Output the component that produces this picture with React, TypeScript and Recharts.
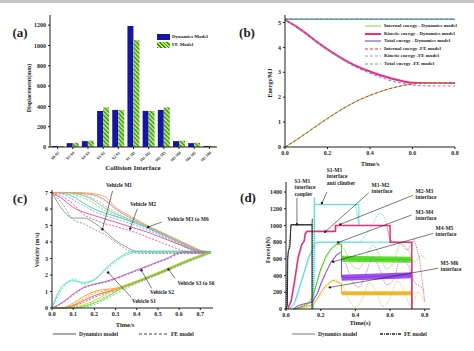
import React from "react";
import {
  BarChart,
  Bar,
  LineChart,
  Line,
  XAxis,
  YAxis,
  ReferenceLine,
  ReferenceDot,
} from "recharts";

const serif = '"Liberation Serif", "DejaVu Serif", serif';
const ink = "#1e1e1e";
const tick = { fontSize: 6, fontFamily: serif, fontWeight: 700, fill: ink };

// (a) displacement per collision interface
const interfaces = ["S6-S5", "S5-S4", "S4-S3", "S3-S2", "S2-S1", "S1-M1", "M1-M2", "M2-M3", "M3-M4", "M4-M5", "M5-M6"];
const dispDynamics = [10, 38, 58, 355, 365, 1192, 355, 365, 58, 38, 10];
const dispFE = [10, 42, 62, 390, 365, 1052, 355, 390, 62, 42, 10];
const dispTicks = [0, 200, 400, 600, 800, 1000, 1200];

// (b) energy
const timeB = [0, 0.05, 0.1, 0.15, 0.2, 0.25, 0.3, 0.35, 0.4, 0.45, 0.5, 0.55, 0.6, 0.65, 0.7, 0.75, 0.8];
const internalDyn = [0, 0.27, 0.56, 0.86, 1.15, 1.43, 1.68, 1.9, 2.08, 2.23, 2.36, 2.46, 2.53, 2.56, 2.57, 2.58, 2.58];
const kineticDyn = [5.1, 4.85, 4.55, 4.22, 3.92, 3.65, 3.4, 3.2, 3.03, 2.88, 2.75, 2.65, 2.58, 2.57, 2.57, 2.57, 2.57];
const totalDyn = [5.13, 5.13, 5.13, 5.13, 5.13, 5.13, 5.13, 5.13, 5.13, 5.13, 5.13, 5.13, 5.13, 5.13, 5.13, 5.13, 5.13];
const internalFE = [0, 0.26, 0.55, 0.85, 1.14, 1.42, 1.67, 1.89, 2.07, 2.23, 2.36, 2.46, 2.53, 2.56, 2.57, 2.58, 2.58];
const kineticFE = [5.1, 4.84, 4.53, 4.2, 3.9, 3.62, 3.36, 3.14, 2.96, 2.8, 2.66, 2.56, 2.49, 2.46, 2.45, 2.45, 2.45];
const totalFE = [5.14, 5.14, 5.14, 5.14, 5.14, 5.14, 5.14, 5.14, 5.14, 5.14, 5.14, 5.14, 5.14, 5.14, 5.14, 5.14, 5.14];

// (c) velocity
const timeC = [0, 0.05, 0.1, 0.15, 0.2, 0.25, 0.3, 0.35, 0.4, 0.45, 0.5, 0.55, 0.6, 0.65, 0.7, 0.75];
const velM1 = [7, 5.95, 5.45, 5.45, 5.15, 4.65, 4.1, 3.7, 3.42, 3.4, 3.4, 3.4, 3.4, 3.4, 3.4, 3.38];
const velM2 = [7, 6.6, 6.1, 5.8, 5.6, 5.4, 5.2, 5.0, 4.8, 4.6, 4.35, 4.1, 3.85, 3.6, 3.4, 3.35];
const velM3 = [7, 6.95, 6.75, 6.35, 6.0, 5.75, 5.55, 5.35, 5.12, 4.87, 4.58, 4.28, 3.98, 3.7, 3.45, 3.33];
const velM4 = [7, 7, 6.95, 6.8, 6.5, 6.05, 5.7, 5.45, 5.2, 4.92, 4.62, 4.32, 4.02, 3.72, 3.45, 3.33];
const velM5 = [7, 7, 6.98, 6.92, 6.85, 6.55, 6.0, 5.6, 5.28, 4.95, 4.65, 4.35, 4.05, 3.75, 3.48, 3.35];
const velM6 = [7, 7, 7, 6.98, 6.92, 6.75, 6.1, 5.7, 5.35, 5.0, 4.7, 4.4, 4.1, 3.8, 3.5, 3.38];
const velS1 = [0, 1.35, 1.65, 1.55, 1.7, 2.35, 2.9, 3.3, 3.45, 3.45, 3.45, 3.45, 3.45, 3.45, 3.45, 3.42];
const velS2 = [0, 0.35, 0.85, 1.25, 1.45, 1.6, 1.8, 2.05, 2.3, 2.55, 2.8, 3.05, 3.35, 3.4, 3.4, 3.38];
const velS3 = [0, 0.02, 0.3, 0.7, 1.0, 1.12, 1.2, 1.4, 1.62, 1.88, 2.15, 2.42, 2.7, 2.95, 3.2, 3.38];
const velS4 = [0, 0, 0.15, 0.45, 0.75, 0.95, 1.12, 1.35, 1.6, 1.85, 2.1, 2.38, 2.65, 2.92, 3.18, 3.38];
const velS5 = [0, 0, 0.05, 0.2, 0.45, 0.8, 1.1, 1.4, 1.65, 1.9, 2.15, 2.42, 2.7, 2.96, 3.2, 3.38];
const velS6 = [0, 0, 0, 0.1, 0.3, 0.6, 0.98, 1.32, 1.58, 1.84, 2.1, 2.36, 2.64, 2.9, 3.16, 3.36];
const velM1fe = [7, 6.3, 5.35, 5.1, 4.75, 4.45, 4.0, 3.55, 3.32, 3.3, 3.3, 3.3, 3.3, 3.3, 3.3, 3.3];
const velM2fe = [7, 6.75, 6.3, 5.65, 5.35, 5.1, 4.95, 4.75, 4.55, 4.3, 4.05, 3.8, 3.55, 3.35, 3.3, 3.3];
const velM3fe = [7, 6.9, 6.55, 6.2, 5.85, 5.6, 5.4, 5.2, 4.98, 4.72, 4.45, 4.15, 3.85, 3.55, 3.35, 3.3];
const velM4fe = [7, 6.98, 6.88, 6.65, 6.3, 5.9, 5.6, 5.35, 5.1, 4.82, 4.52, 4.2, 3.9, 3.6, 3.38, 3.3];
const velM5fe = [7, 7, 6.95, 6.85, 6.6, 6.2, 5.8, 5.45, 5.15, 4.85, 4.55, 4.25, 3.95, 3.65, 3.4, 3.3];
const velM6fe = [7, 7, 7, 6.95, 6.8, 6.5, 6.0, 5.6, 5.28, 4.95, 4.62, 4.3, 3.98, 3.68, 3.42, 3.32];
const velS1fe = [0, 1.2, 1.75, 1.45, 1.75, 2.25, 2.8, 3.2, 3.35, 3.35, 3.35, 3.35, 3.35, 3.35, 3.35, 3.35];
const velS2fe = [0, 0.3, 0.78, 1.2, 1.42, 1.55, 1.75, 2.0, 2.25, 2.5, 2.75, 3.0, 3.28, 3.35, 3.35, 3.35];
const velS3fe = [0, 0, 0.2, 0.55, 0.9, 1.05, 1.15, 1.32, 1.55, 1.8, 2.05, 2.32, 2.6, 2.88, 3.12, 3.35];
const velS4fe = [0, 0, 0.1, 0.35, 0.65, 0.88, 1.05, 1.28, 1.52, 1.78, 2.02, 2.3, 2.58, 2.85, 3.1, 3.35];
const velS5fe = [0, 0, 0.02, 0.12, 0.35, 0.68, 1.0, 1.3, 1.56, 1.82, 2.08, 2.34, 2.62, 2.88, 3.12, 3.35];
const velS6fe = [0, 0, 0, 0.05, 0.2, 0.5, 0.85, 1.2, 1.48, 1.75, 2.02, 2.28, 2.56, 2.82, 3.08, 3.32];

// (d) interface force, [time s, force kN]
const coupler = [[0, 0], [0.008, 40], [0.01, 600], [0.014, 700], [0.02, 720], [0.024, 780], [0.028, 1010], [0.15, 1010], [0.15, 0]];
const couplerFE = [[0, 0], [0.01, 650], [0.016, 720], [0.03, 1000], [0.148, 1000], [0.152, 1080], [0.152, 0]];
const antiClimber = [[0.16, 0], [0.165, 1250], [0.42, 1250], [0.42, 1000]];
const antiClimberFE = [[0.158, 0], [0.162, 1340], [0.168, 1250], [0.4, 1250], [0.42, 1000]];
const m1m2 = [[0.01, 0], [0.03, 100], [0.05, 350], [0.07, 620], [0.09, 770], [0.105, 810], [0.11, 900], [0.12, 930], [0.285, 930], [0.285, 1000], [0.6, 1000], [0.6, 800], [0.725, 800], [0.725, 0]];
const m1m2FE = [[0.01, 0], [0.03, 80], [0.05, 300], [0.07, 580], [0.09, 740], [0.11, 860], [0.12, 920], [0.28, 920], [0.3, 1000], [0.58, 1000], [0.6, 820], [0.66, 780], [0.7, 700], [0.74, 830], [0.77, 600], [0.8, 80]];
const m2m3 = [[0.02, 0], [0.05, 80], [0.08, 280], [0.11, 480], [0.13, 620], [0.15, 700], [0.17, 800], [0.6, 800]];
const m2m3FE = [[0.02, 0], [0.05, 60], [0.08, 250], [0.11, 450], [0.14, 640], [0.17, 780], [0.2, 800], [0.42, 800], [0.46, 880], [0.5, 1020], [0.54, 1150], [0.57, 1080], [0.6, 850], [0.64, 760]];
const m3m4 = [[0.04, 0], [0.08, 20], [0.12, 50], [0.15, 110], [0.17, 260], [0.2, 480], [0.23, 630], [0.26, 720], [0.29, 770], [0.32, 780], [0.32, 600], [0.725, 590], [0.725, 0]];
const m3m4FE = [[0.04, 0], [0.1, 40], [0.15, 150], [0.2, 450], [0.25, 680], [0.3, 790], [0.34, 700], [0.38, 520], [0.42, 480], [0.46, 620], [0.5, 760], [0.54, 640], [0.58, 480], [0.62, 560], [0.66, 780], [0.7, 720], [0.74, 560], [0.78, 640], [0.8, 600]];
const m4m5 = [[0.04, 0], [0.07, 40], [0.1, 60], [0.15, 80], [0.18, 180], [0.2, 300], [0.23, 440], [0.26, 560], [0.29, 640], [0.32, 690], [0.32, 375], [0.725, 405], [0.725, 0]];
const m4m5FE = [[0.05, 0], [0.1, 50], [0.15, 90], [0.2, 280], [0.25, 520], [0.3, 660], [0.34, 560], [0.38, 340], [0.42, 260], [0.46, 420], [0.5, 620], [0.54, 480], [0.58, 290], [0.62, 350], [0.66, 600], [0.7, 540], [0.74, 320], [0.78, 260], [0.8, 200]];
const m5m6 = [[0.05, 0], [0.1, 20], [0.15, 50], [0.18, 120], [0.21, 230], [0.24, 300], [0.27, 345], [0.3, 320], [0.32, 300], [0.32, 190], [0.725, 190], [0.725, 0]];
const m5m6FE = [[0.05, 0], [0.1, 15], [0.15, 40], [0.2, 160], [0.25, 300], [0.28, 350], [0.32, 290], [0.36, 120], [0.4, 20], [0.44, 120], [0.48, 320], [0.52, 200], [0.56, 30], [0.6, 130], [0.64, 330], [0.68, 220], [0.72, 40], [0.76, 200], [0.8, 80]];
const bandM3M4 = [[0.32, 600], [0.725, 590]];
const bandM4M5 = [[0.32, 375], [0.725, 405]];
const bandM5M6 = [[0.32, 190], [0.725, 190]];

const dispRows = interfaces.map((name, i) => ({ name, dyn: dispDynamics[i], fe: dispFE[i] }));
const energyRows = timeB.map((t, i) => ({
  t, intD: internalDyn[i], kinD: kineticDyn[i], totD: totalDyn[i],
  intF: internalFE[i], kinF: kineticFE[i], totF: totalFE[i],
}));
const velRows = timeC.map((t, i) => ({
  t, m1: velM1[i], m2: velM2[i], m3: velM3[i], m4: velM4[i], m5: velM5[i], m6: velM6[i],
  s1: velS1[i], s2: velS2[i], s3: velS3[i], s4: velS4[i], s5: velS5[i], s6: velS6[i],
  m1f: velM1fe[i], m2f: velM2fe[i], m3f: velM3fe[i], m4f: velM4fe[i], m5f: velM5fe[i], m6f: velM6fe[i],
  s1f: velS1fe[i], s2f: velS2fe[i], s3f: velS3fe[i], s4f: velS4fe[i], s5f: velS5fe[i], s6f: velS6fe[i],
}));
const pts = (a: number[][]) => a.map(([x, y]) => ({ x, y }));

const velColors: Record<string, string> = {
  m1: "#8c8c8c", m2: "#f0468c", m3: "#58b8e8", m4: "#6cd86c", m5: "#c88ce8", m6: "#f0a838",
  s1: "#3ce0b4", s2: "#b05ab4", s3: "#f0a020", s4: "#f05050", s5: "#c0d838", s6: "#58d858",
};

const axisProps = {
  tick,
  tickSize: 2,
  axisLine: { stroke: ink },
  tickLine: { stroke: ink },
};

function T({ x, y, size = 6, rot = 0, anchor = "middle", children }: any) {
  const tx = anchor === "middle" ? "-50%" : anchor === "end" ? "-100%" : "0";
  return (
    <div
      style={{
        position: "absolute", left: x, top: y,
        transform: `translate(${tx},-50%) rotate(${rot}deg)`,
        fontFamily: serif, fontWeight: 700, fontSize: size,
        whiteSpace: "nowrap", lineHeight: 1.15, color: ink,
      }}
    >
      {children}
    </div>
  );
}

function Swatch({ x, y, w, color, dash, width = 1 }: any) {
  return (
    <svg style={{ position: "absolute", left: x, top: y - 2 }} width={w} height={4}>
      <line x1={0} y1={2} x2={w} y2={2} stroke={color} strokeWidth={width} strokeDasharray={dash} />
    </svg>
  );
}

const RotTick = (props: any) => {
  const { x, y, payload } = props;
  return (
    <g transform={`translate(${x + 2},${y + 2})`}>
      <text transform="rotate(-45)" textAnchor="end" fontSize={4} fontFamily={serif} fontWeight={700} fill={ink}>
        {payload.value}
      </text>
    </g>
  );
};

const energyLegend = [
  { name: "Internal energy - Dynamics model", color: "#8ee05a", dash: undefined, w: 1.2 },
  { name: "Kinetic energy - Dynamics model", color: "#f0287a", dash: undefined, w: 2 },
  { name: "Total energy - Dynamics model", color: "#8484e0", dash: undefined, w: 1.5 },
  { name: "Internal energy -FE model", color: "#f02848", dash: "3 2", w: 1.2 },
  { name: "Kinetic energy -FE model", color: "#90a0e8", dash: "3 2", w: 1.2 },
  { name: "Total energy -FE model", color: "#3cc03c", dash: "3 2", w: 1.2 },
];

export default function App() {
  const seg = (a: number[], b: number[]) => [{ x: a[0], y: a[1] }, { x: b[0], y: b[1] }];
  return (
    <div style={{ position: "absolute", left: 0, top: 0, width: 474, height: 351, background: "#fff", overflow: "hidden" }}>
      <div style={{ position: "absolute", left: 0, top: 0, width: 474, height: 3, background: "#c4c4c4" }} />

      {/* (a) */}
      <div style={{ position: "absolute", left: 0, top: 0 }}>
        <BarChart width={237} height={175} data={dispRows} margin={{ top: 15, right: 20, left: 0, bottom: 0 }} barGap={0} barCategoryGap="10%">
          <defs>
            <pattern id="hatch" width="3" height="3" patternUnits="userSpaceOnUse" patternTransform="rotate(-45)">
              <rect width="3" height="3" fill="#c4f064" />
              <rect width="1.3" height="3" fill="#2a8a2a" />
            </pattern>
          </defs>
          <XAxis dataKey="name" interval={0} height={28} tick={<RotTick />} tickSize={2} axisLine={{ stroke: ink }} tickLine={{ stroke: ink }} />
          <YAxis width={50} domain={[0, 1300]} ticks={dispTicks} {...axisProps} />
          <Bar dataKey="dyn" fill="#1616a6" isAnimationActive={false} />
          <Bar dataKey="fe" fill="url(#hatch)" isAnimationActive={false} />
        </BarChart>
      </div>
      <T x={20} y={33} size={13}>(a)</T>
      <T x={29} y={88} rot={-90}>Displacement(mm)</T>
      <T x={133} y={168} size={7}>Collision Interface</T>
      <div style={{ position: "absolute", left: 157, top: 34, width: 13, height: 6, background: "#1616a6" }} />
      <div style={{ position: "absolute", left: 157, top: 42, width: 13, height: 6, background: "repeating-linear-gradient(45deg, #2a8a2a 0 1.2px, #c4f064 1.2px 2.6px)" }} />
      <T x={172} y={37} size={5} anchor="start">Dynamics Model</T>
      <T x={172} y={45} size={5} anchor="start">FE Model</T>

      {/* (b) */}
      <div style={{ position: "absolute", left: 237, top: 0 }}>
        <LineChart width={237} height={175} data={energyRows} margin={{ top: 15, right: 19, left: 0, bottom: 0 }}>
          <XAxis dataKey="t" type="number" domain={[0, 0.8]} ticks={[0, 0.2, 0.4, 0.6, 0.8]} tickFormatter={(v: number) => v.toFixed(1)} height={28} {...axisProps} />
          <YAxis domain={[0, 5.3]} ticks={[0, 1, 2, 3, 4, 5]} width={48} {...axisProps} />
          <Line dataKey="totD" stroke="#8484e0" strokeWidth={1.5} dot={false} isAnimationActive={false} />
          <Line dataKey="totF" stroke="#3cc03c" strokeWidth={1.2} strokeDasharray="3 2" dot={false} isAnimationActive={false} />
          <Line type="monotone" dataKey="kinD" stroke="#f0287a" strokeWidth={2} dot={false} isAnimationActive={false} />
          <Line type="monotone" dataKey="intD" stroke="#8ee05a" strokeWidth={1.2} dot={false} isAnimationActive={false} />
          <Line type="monotone" dataKey="kinF" stroke="#8890e0" strokeWidth={1.2} strokeDasharray="3 2" dot={false} isAnimationActive={false} />
          <Line type="monotone" dataKey="intF" stroke="#f02848" strokeWidth={1} strokeDasharray="3 2" dot={false} isAnimationActive={false} />
        </LineChart>
      </div>
      <T x={247} y={33} size={13}>(b)</T>
      <T x={270} y={83} rot={-90}>Energy/MJ</T>
      <T x={370} y={164} size={6.5}>Time/s</T>
      {energyLegend.map((e, i) => (
        <React.Fragment key={e.name}>
          <Swatch x={365} y={26 + i * 7.5} w={16} color={e.color} dash={e.dash} width={e.w} />
          <T x={384} y={26 + i * 7.5} size={5} anchor="start">{e.name}</T>
        </React.Fragment>
      ))}

      {/* (c) */}
      <div style={{ position: "absolute", left: 0, top: 175 }}>
        <LineChart width={237} height={176} data={velRows} margin={{ top: 15, right: 24, left: 0, bottom: 0 }}>
          <XAxis dataKey="t" type="number" domain={[0, 0.76]} ticks={[0, 0.1, 0.2, 0.3, 0.4, 0.5, 0.6, 0.7]} tickFormatter={(v: number) => v.toFixed(1)} height={43} {...axisProps} />
          <YAxis domain={[0, 7.15]} ticks={[0, 1, 2, 3, 4, 5, 6, 7]} width={52} {...axisProps} />
          {Object.keys(velColors).map((k) => (
            <Line key={k + "f"} type="monotone" dataKey={k + "f"} stroke={velColors[k]} strokeWidth={0.9} strokeDasharray="2 1.5" dot={false} isAnimationActive={false} />
          ))}
          {Object.keys(velColors).map((k) => (
            <Line key={k} type="monotone" dataKey={k} stroke={velColors[k]} strokeWidth={0.9} dot={false} isAnimationActive={false} />
          ))}
          <ReferenceLine segment={seg([0.286, 7.1], [0.238, 4.77])} stroke={ink} strokeWidth={0.6} ifOverflow="visible" />
          <ReferenceLine segment={seg([0.403, 6.02], [0.369, 4.81])} stroke={ink} strokeWidth={0.6} ifOverflow="visible" />
          <ReferenceLine segment={seg([0.518, 5.21], [0.454, 4.91])} stroke={ink} strokeWidth={0.6} ifOverflow="visible" />
          <ReferenceLine segment={seg([0.581, 1.79], [0.55, 2.34])} stroke={ink} strokeWidth={0.6} ifOverflow="visible" />
          <ReferenceLine segment={seg([0.47, 1.19], [0.422, 2.29])} stroke={ink} strokeWidth={0.6} ifOverflow="visible" />
          <ReferenceLine segment={seg([0.374, 0.65], [0.265, 2.15])} stroke={ink} strokeWidth={0.6} ifOverflow="visible" />
          <ReferenceDot x={0.238} y={4.77} r={1.2} fill={ink} stroke="none" />
          <ReferenceDot x={0.369} y={4.81} r={1.2} fill={ink} stroke="none" />
          <ReferenceDot x={0.454} y={4.91} r={1.2} fill={ink} stroke="none" />
          <ReferenceDot x={0.55} y={2.34} r={1.2} fill={ink} stroke="none" />
          <ReferenceDot x={0.422} y={2.29} r={1.2} fill={ink} stroke="none" />
          <ReferenceDot x={0.265} y={2.15} r={1.2} fill={ink} stroke="none" />
        </LineChart>
      </div>
      <T x={20} y={199} size={13}>(c)</T>
      <T x={37} y={250} rot={-90}>Velocity (m/s)</T>
      <T x={125} y={325} size={6.5}>Time/s</T>
      <T x={119} y={185} size={5.5}>Vehicle M1</T>
      <T x={143} y={204} size={5.5}>Vehicle M2</T>
      <T x={188} y={219} size={5.5}>Vehicle M3 to M6</T>
      <T x={196} y={283} size={5.5}>Vehicle S3 to S6</T>
      <T x={162} y={292} size={5.5}>Vehicle S2</T>
      <T x={144} y={301} size={5.5}>Vehicle S1</T>
      <Swatch x={53} y={334} w={23} color="#555" />
      <T x={79} y={334} size={5.5} anchor="start">Dynamics model</T>
      <Swatch x={139} y={334} w={28} color="#444" dash="3 2" />
      <T x={171} y={334} size={5.5} anchor="start">FE  model</T>

      {/* (d) */}
      <div style={{ position: "absolute", left: 237, top: 175 }}>
        <LineChart width={237} height={176} margin={{ top: 7, right: 44, left: 0, bottom: 0 }}>
          <XAxis dataKey="x" type="number" domain={[0, 0.83]} ticks={[0, 0.2, 0.4, 0.6, 0.8]} tickFormatter={(v: number) => v.toFixed(1)} height={42} {...axisProps} />
          <YAxis domain={[0, 1520]} ticks={[0, 200, 400, 600, 800, 1000, 1200, 1400]} width={49} {...axisProps} />
          <Line data={pts(bandM3M4)} dataKey="y" stroke="#5ce030" strokeWidth={6} dot={false} isAnimationActive={false} />
          <Line data={pts(bandM4M5)} dataKey="y" stroke="#a050f0" strokeWidth={6} dot={false} isAnimationActive={false} />
          <Line data={pts(bandM5M6)} dataKey="y" stroke="#f4b830" strokeWidth={4} dot={false} isAnimationActive={false} />
          <Line data={pts(m3m4FE)} dataKey="y" type="monotone" stroke="#58c828" strokeWidth={0.8} strokeDasharray="1 1" dot={false} isAnimationActive={false} />
          <Line data={pts(m4m5FE)} dataKey="y" type="monotone" stroke="#a050e0" strokeWidth={0.8} strokeDasharray="1 1" dot={false} isAnimationActive={false} />
          <Line data={pts(m5m6FE)} dataKey="y" type="monotone" stroke="#f0b030" strokeWidth={0.8} strokeDasharray="1 1" dot={false} isAnimationActive={false} />
          <Line data={pts(m2m3FE)} dataKey="y" type="monotone" stroke="#48d8d8" strokeWidth={0.8} strokeDasharray="1 1" dot={false} isAnimationActive={false} />
          <Line data={pts(m1m2FE)} dataKey="y" stroke="#e8307a" strokeWidth={0.8} strokeDasharray="1 1" dot={false} isAnimationActive={false} />
          <Line data={pts(antiClimberFE)} dataKey="y" stroke="#30e0b0" strokeWidth={1} strokeDasharray="1 1" dot={false} isAnimationActive={false} />
          <Line data={pts(couplerFE)} dataKey="y" stroke="#333" strokeWidth={1} strokeDasharray="1 1" dot={false} isAnimationActive={false} />
          <Line data={pts(m2m3)} dataKey="y" stroke="#48d8e0" strokeWidth={1} dot={false} isAnimationActive={false} />
          <Line data={pts(antiClimber)} dataKey="y" stroke="#50e0e0" strokeWidth={1} dot={false} isAnimationActive={false} />
          <Line data={pts(m5m6)} dataKey="y" stroke="#f0b020" strokeWidth={1} dot={false} isAnimationActive={false} />
          <Line data={pts(m4m5)} dataKey="y" stroke="#9040e0" strokeWidth={1} dot={false} isAnimationActive={false} />
          <Line data={pts(m3m4)} dataKey="y" stroke="#50c820" strokeWidth={1} dot={false} isAnimationActive={false} />
          <Line data={pts(m1m2)} dataKey="y" stroke="#e8307a" strokeWidth={1.5} dot={false} isAnimationActive={false} />
          <Line data={pts(coupler)} dataKey="y" stroke="#2a2a2a" strokeWidth={1} dot={false} isAnimationActive={false} />
          <ReferenceLine segment={seg([0.063, 1330], [0.063, 1015])} stroke={ink} strokeWidth={0.6} ifOverflow="visible" />
          <ReferenceLine segment={seg([0.236, 1400], [0.207, 1268])} stroke={ink} strokeWidth={0.6} ifOverflow="visible" />
          <ReferenceLine segment={seg([0.477, 1390], [0.226, 925])} stroke={ink} strokeWidth={0.6} ifOverflow="visible" />
          <ReferenceLine segment={seg([0.731, 1360], [0.313, 1013])} stroke={ink} strokeWidth={0.6} ifOverflow="visible" />
          <ReferenceLine segment={seg([0.723, 1124], [0.301, 797])} stroke={ink} strokeWidth={0.6} ifOverflow="visible" />
          <ReferenceLine segment={seg([0.848, 905], [0.272, 565])} stroke={ink} strokeWidth={0.6} ifOverflow="visible" />
          <ReferenceLine segment={seg([0.877, 487], [0.253, 259])} stroke={ink} strokeWidth={0.6} ifOverflow="visible" />
          <ReferenceDot x={0.063} y={1015} r={1.2} fill={ink} stroke="none" />
          <ReferenceDot x={0.207} y={1268} r={1.2} fill={ink} stroke="none" />
          <ReferenceDot x={0.226} y={925} r={1.2} fill={ink} stroke="none" />
          <ReferenceDot x={0.313} y={1013} r={1.2} fill={ink} stroke="none" />
          <ReferenceDot x={0.301} y={797} r={1.2} fill={ink} stroke="none" />
          <ReferenceDot x={0.272} y={565} r={1.2} fill={ink} stroke="none" />
          <ReferenceDot x={0.253} y={259} r={1.2} fill={ink} stroke="none" />
        </LineChart>
      </div>
      <T x={248} y={198} size={13}>(d)</T>
      <T x={268} y={250} rot={-90}>Force(kN)</T>
      <T x={360} y={323} size={6.5}>Time(s)</T>
      <T x={305} y={187} size={5.5}>S1-M1<br />interface<br />coupler</T>
      <T x={341} y={176} size={5.5}>S1-M1<br />interface<br />anti climber</T>
      <T x={382} y={188} size={5.5}>M1-M2<br />interface</T>
      <T x={426} y={194} size={5.5}>M2-M3<br />interface</T>
      <T x={426} y={215} size={5.5}>M3-M4<br />interface</T>
      <T x={446} y={231} size={5.5}>M4-M5<br />interface</T>
      <T x={451} y={266} size={5.5}>M5-M6<br />interface</T>
      <Swatch x={292} y={334} w={23} color="#777" />
      <T x={318} y={334} size={5.5} anchor="start">Dynamics model</T>
      <Swatch x={380} y={334} w={22} color="#222" dash="3 1 1 1" width={1.5} />
      <T x={404} y={334} size={5.5} anchor="start">FE model</T>
    </div>
  );
}
